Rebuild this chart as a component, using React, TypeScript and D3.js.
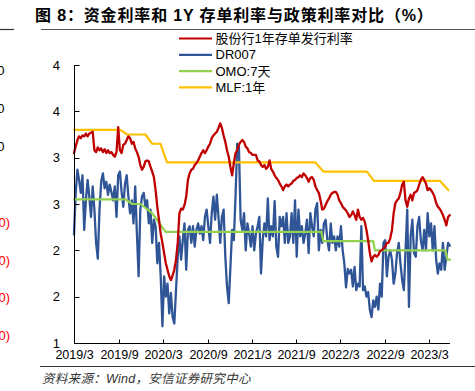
import React from "react";
import * as d3 from "d3";

// ---------- data ----------
const titleText = "图 8：资金利率和 1Y 存单利率与政策利率对比（%）";
const sourceText = "资料来源：Wind，安信证券研究中心";
const seriesNames = ["股份行1年存单发行利率", "DR007", "OMO:7天", "MLF:1年"];
const seriesColors = ["#C00000", "#2F5597", "#92D050", "#FFC000"];

// weekly observations starting 2019-03-01
const weeklyStart = "2019-03-01";
const cdRate = [
  3.05, 3.12, 3.19, 3.23, 3.21, 3.24, 3.23, 3.26, 3.23, 3.26, 3.27, 3.28, 3.08, 3.06, 3.11, 3.08, 3.1, 3.06, 3.09, 3.05,
  3.08, 3.05, 3.06, 3.03, 3.01, 3.06, 3.33, 3.08, 3.05, 3.14, 3.15, 3.19, 3.23, 3.21, 3.15, 3.17, 3.1, 3.06, 3.01, 2.92,
  2.87, 2.9, 2.96, 2.97, 2.96, 2.9, 2.85, 2.79, 2.65, 2.47, 2.33, 2.18, 2.08, 1.97, 1.86, 1.79, 1.72, 1.68, 1.73, 1.79,
  1.9, 2.08, 2.4, 2.45, 2.44, 2.49, 2.58, 2.76, 2.83, 2.87, 2.88, 2.92, 2.94, 2.97, 3.01, 3.05, 3.08, 3.05, 3.08, 3.12,
  3.15, 3.21, 3.24, 3.26, 3.28, 3.32, 3.37, 3.32, 3.24, 3.17, 3.08, 3.01, 2.9, 2.81, 2.94, 3.05, 3.08, 3.14, 3.17, 3.19,
  3.17, 3.12, 3.1, 3.06, 3.05, 3.03, 3.03, 3.03, 2.97, 2.96, 2.92, 2.9, 2.92, 2.88, 2.9, 2.97, 2.88, 2.85, 2.81, 2.78,
  2.76, 2.72, 2.69, 2.65, 2.69, 2.71, 2.69, 2.71, 2.72, 2.75, 2.76, 2.78, 2.79, 2.81, 2.79, 2.83, 2.81, 2.78, 2.74, 2.78,
  2.79, 2.76, 2.69, 2.65, 2.62, 2.54, 2.44, 2.45, 2.49, 2.53, 2.56, 2.6, 2.62, 2.63, 2.63, 2.6, 2.54, 2.51, 2.47, 2.45,
  2.43, 2.4, 2.36, 2.38, 2.42, 2.38, 2.33, 2.44, 2.36, 2.33, 2.35, 2.31, 2.22, 2.11, 1.97, 1.88, 1.93, 1.95, 1.93, 1.95,
  1.99, 2.0, 2.02, 2.04, 2.08, 2.08, 2.13, 2.22, 2.4, 2.51, 2.54, 2.56, 2.62, 2.71, 2.74, 2.54, 2.47, 2.56, 2.6, 2.54,
  2.62, 2.63, 2.65, 2.71, 2.76, 2.79, 2.76, 2.72, 2.65, 2.67, 2.65, 2.62, 2.58, 2.51, 2.47, 2.45, 2.42, 2.38, 2.33, 2.27,
  2.36, 2.38,
];
const dr007 = [
  2.17, 2.62, 2.87, 2.76, 2.62, 2.81, 2.22, 2.54, 2.76, 2.58, 2.36, 2.69, 2.44, 2.08, 1.91, 2.44, 2.74, 2.83, 2.67, 2.74,
  2.6, 2.71, 2.63, 2.54, 2.69, 2.36, 2.81, 2.85, 2.63, 2.47, 2.72, 2.81, 2.58, 2.4, 2.54, 2.29, 2.69, 2.18, 1.72, 2.44,
  2.58, 2.62, 2.47, 2.54, 2.29, 2.44, 2.08, 2.33, 2.26, 1.86, 2.08, 1.72, 1.18, 1.72, 1.5, 1.64, 1.32, 1.54, 1.28, 1.21,
  1.57, 1.93, 2.15, 1.9, 2.11, 2.29, 1.79, 2.22, 2.26, 2.08, 2.26, 2.04, 2.22, 2.29, 2.18, 2.26, 2.11, 2.36, 2.44, 2.26,
  2.08, 2.4, 2.58, 2.33, 2.6, 2.36, 2.08, 2.36, 2.44, 1.93, 1.61, 1.43, 1.82, 2.22, 2.11, 2.58, 3.15, 3.12, 2.33, 2.22,
  2.4, 2.0, 2.29, 2.18, 2.04, 2.26, 2.0, 2.18, 2.26, 2.36, 1.75, 2.11, 2.29, 2.15, 2.56, 2.11, 2.26, 2.15, 2.53, 2.04,
  1.93, 2.36, 2.26, 2.36, 2.08, 2.4, 2.08, 2.15, 2.4, 2.08, 2.54, 1.93, 2.44, 2.15, 2.26, 2.08, 2.18, 2.33, 1.97, 2.4,
  2.26, 2.15, 2.44, 2.51, 2.0, 2.22, 2.08, 2.29, 2.33, 2.11, 2.0, 2.29, 2.08, 2.15, 2.0, 2.15, 2.04, 2.26, 2.0, 1.86,
  1.6, 1.8, 1.75, 1.79, 1.61, 1.82, 1.57, 1.64, 1.61, 2.26, 1.57, 1.61, 1.5, 1.55, 1.36, 1.28, 1.46, 1.39, 1.5, 1.36,
  1.64, 1.5, 2.08, 2.11, 1.72, 1.93, 2.0, 1.9, 1.64, 1.75, 1.97, 2.08, 1.86, 1.68, 1.57, 2.0, 2.44, 1.39, 2.15, 2.33,
  1.97, 1.93, 2.26, 2.36, 2.11, 2.0, 2.22, 2.0, 2.4, 2.15, 2.29, 2.0, 2.26, 1.9, 1.75, 1.86, 1.79, 2.08, 1.79, 1.93,
  2.08, 2.05,
];

// policy rates (as plotted)
const omoDates = [
  "2019-03-01", "2019-09-29", "2019-10-27", "2019-11-30", "2020-01-17", "2020-03-12",
  "2021-12-13", "2021-12-21", "2022-07-15", "2022-07-22", "2023-05-09", "2023-05-16", "2023-05-27",
];
const omoValues = [2.55, 2.55, 2.5, 2.5, 2.4, 2.2, 2.2, 2.1, 2.1, 2.0, 2.0, 1.9, 1.9];
const mlfDates = [
  "2019-03-01", "2019-09-08", "2019-10-06", "2019-12-20", "2020-01-17", "2020-02-20", "2020-03-18",
  "2021-11-18", "2021-12-22", "2022-06-19", "2022-07-18", "2023-04-15", "2023-05-20",
];
const mlfValues = [3.3, 3.3, 3.25, 3.25, 3.15, 3.15, 2.95, 2.95, 2.85, 2.85, 2.75, 2.75, 2.65];

const xDomain = ["2019-03-01", "2023-05-27"];
const xTickDates = [
  "2019-03-01", "2019-09-01", "2020-03-01", "2020-09-01", "2021-03-01",
  "2021-09-01", "2022-03-01", "2022-09-01", "2023-03-01",
];
const xTickLabels = ["2019/3", "2019/9", "2020/3", "2020/9", "2021/3", "2021/9", "2022/3", "2022/9", "2023/3"];
const yTickValues = [1, 1.5, 2, 2.5, 3, 3.5, 4];
const yTickLabels = ["1", "2", "2", "3", "3", "4", "4"];

// cropped neighbour-page fragments at the left edge
const edgeBlackYs = [70, 108, 146];
const edgeRedYs = [222, 260, 297, 335];

const parse = d3.timeParse("%Y-%m-%d");
const FONT = "'Liberation Sans', Arial, 'Noto Sans CJK SC', sans-serif";

export default function App() {
  const W = 475;
  const H = 391;
  const left = 74;
  const right = 450;
  const top = 65;
  const bottom = 343;

  const x = d3.scaleTime().domain(xDomain.map((d) => parse(d) as Date)).range([left, right]);
  const y = d3.scaleLinear().domain([1, 4]).range([bottom, top]);

  const start = parse(weeklyStart) as Date;
  const weekly = (vals: number[]) => vals.map((v, i) => ({ d: d3.timeDay.offset(start, 7 * i), v }));
  const dated = (ds: string[], vs: number[]) => ds.map((s, i) => ({ d: parse(s) as Date, v: vs[i] }));

  const line = d3
    .line<{ d: Date; v: number }>()
    .x((p) => x(p.d))
    .y((p) => y(p.v));

  const series = [
    { data: dated(mlfDates, mlfValues), color: seriesColors[3], w: 2.2 },
    { data: dated(omoDates, omoValues), color: seriesColors[2], w: 2.2 },
    { data: weekly(dr007), color: seriesColors[1], w: 2.3 },
    { data: weekly(cdRate), color: seriesColors[0], w: 2.3 },
  ];
  // draw order: blue under, then green, yellow, red
  const drawOrder = [2, 1, 0, 3];

  const axX = Math.round(left) + 0.5;
  const axY = Math.round(bottom) + 0.5;

  return (
    <svg
      width={W}
      height={H}
      viewBox={`0 0 ${W} ${H}`}
      style={{ position: "absolute", left: 0, top: 0, background: "#fff" }}
      fontFamily={FONT}
    >
      <rect width={W} height={H} fill="#fff" />
      {/* title */}
      <text x={35} y={21} fontSize={16} fontWeight="bold" fill="#000" letterSpacing={0.85}
        fontFamily="'Liberation Sans', 'Noto Sans CJK SC', sans-serif">
        {titleText}
      </text>
      <line x1={0} x2={14} y1={29.5} y2={29.5} stroke="#333" strokeWidth={1.2} />
      <line x1={41} x2={475} y1={29.5} y2={29.5} stroke="#555" strokeWidth={1} />

      {/* edge fragments */}
      {edgeBlackYs.map((yy, i) => (
        <text key={"eb" + i} x={4.5} y={yy + 4.5} fontSize={13} textAnchor="end" fill="#000">0</text>
      ))}
      {edgeRedYs.map((yy, i) => (
        <text key={"er" + i} x={10} y={yy + 4.5} fontSize={13} textAnchor="end" fill="#FF0000">0)</text>
      ))}

      {/* series */}
      {drawOrder.map((k) => (
        <path key={"s" + k} d={line(series[k].data) || ""} fill="none" stroke={series[k].color}
          strokeWidth={series[k].w} strokeLinejoin="round" strokeLinecap="round" />
      ))}

      {/* axes */}
      <line x1={axX} x2={axX} y1={top} y2={axY} stroke="#000" strokeWidth={1} />
      <line x1={axX} x2={right} y1={axY} y2={axY} stroke="#000" strokeWidth={1} />
      {yTickValues.map((v, i) => (
        <g key={"yt" + i}>
          <line x1={axX} x2={axX + 5} y1={Math.round(y(v)) + 0.5} y2={Math.round(y(v)) + 0.5} stroke="#000" />
          <text x={60} y={y(v) + 4.5} fontSize={13} textAnchor="end" fill="#000">{yTickLabels[i]}</text>
        </g>
      ))}
      {xTickDates.map((s, i) => {
        const xx = Math.round(x(parse(s) as Date)) + 0.5;
        return (
          <g key={"xt" + i}>
            <line x1={xx} x2={xx} y1={axY} y2={axY - 4} stroke="#000" />
            <text x={xx} y={358.5} fontSize={12.5} textAnchor="middle" fill="#000">{xTickLabels[i]}</text>
          </g>
        );
      })}

      {/* legend */}
      {seriesNames.map((n, i) => {
        const ly = 38.5 + 16.3 * i;
        return (
          <g key={"lg" + i}>
            <line x1={179} x2={212} y1={ly} y2={ly} stroke={seriesColors[i]} strokeWidth={2.2} />
            <text x={215.5} y={ly + 4.6} fontSize={13} fill="#000">{n}</text>
          </g>
        );
      })}

      {/* footer */}
      <line x1={40} x2={475} y1={366.5} y2={366.5} stroke="#333" strokeWidth={1} />
      <text x={42} y={383} fontSize={12.5} fontStyle="italic" fill="#333" letterSpacing={0.3}>{sourceText}</text>
    </svg>
  );
}
